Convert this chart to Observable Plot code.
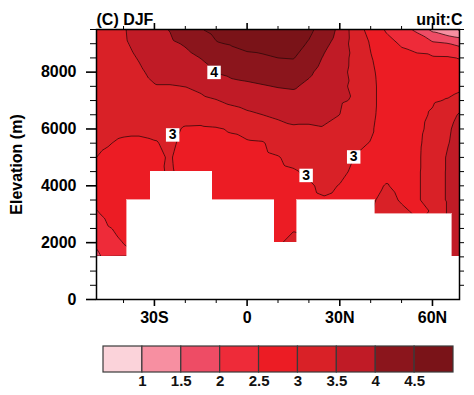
<!DOCTYPE html>
<html><head><meta charset="utf-8">
<script src="https://cdn.jsdelivr.net/npm/d3@7"></script>
<script src="https://cdn.jsdelivr.net/npm/@observablehq/plot@0.6"></script>
<style>body{margin:0;background:#fff} svg{display:block}</style>
</head><body><div id="chart"></div>
<script>
// latitude columns (deg, negative = S) and elevation rows (m)
const lats = [-48.75, -45, -40, -35, -30, -25, -20, -15, -10, -5, 0, 5, 10, 15, 20, 25, 30, 35, 40, 45, 50, 55, 60, 65, 68.75];
const elevs = [9500, 9000, 8500, 8000, 7500, 7000, 6500, 6000, 5500, 5000, 4500, 4000, 3500, 3000, 2500, 2000, 1500];
// temperature change (C) per elevation row, one value per latitude column
const t9500 = [3.4, 3.45, 3.48, 3.6, 3.85, 4.02, 4.35, 4.48, 4.62, 4.72, 4.8, 4.85, 4.85, 4.85, 4.62, 4.25, 3.9, 3.23, 2.83, 2.45, 2.18, 1.9, 1.38, 1.1, 0.95];
const t9000 = [3.35, 3.4, 3.47, 3.56, 3.75, 3.9, 4.05, 4.25, 4.47, 4.53, 4.6, 4.65, 4.68, 4.7, 4.45, 4.1, 3.82, 3.25, 2.97, 2.66, 2.45, 2.35, 2.1, 2.02, 1.9];
const t8500 = [3.3, 3.35, 3.4, 3.52, 3.66, 3.78, 3.85, 4.01, 4.2, 4.35, 4.42, 4.44, 4.5, 4.52, 4.27, 3.95, 3.75, 3.33, 3.02, 2.82, 2.65, 2.58, 2.56, 2.55, 2.48];
const t8000 = [3.25, 3.3, 3.35, 3.45, 3.58, 3.65, 3.7, 3.8, 4.02, 4.1, 4.15, 4.2, 4.25, 4.27, 4.08, 3.82, 3.68, 3.32, 3.05, 2.88, 2.8, 2.72, 2.72, 2.75, 2.8];
const t7500 = [3.2, 3.25, 3.28, 3.38, 3.48, 3.48, 3.505, 3.6, 3.75, 3.88, 3.92, 3.97, 4.02, 4.05, 3.9, 3.7, 3.62, 3.38, 3.06, 2.9, 2.84, 2.8, 2.82, 2.85, 2.92];
const t7000 = [3.15, 3.18, 3.2, 3.28, 3.35, 3.36, 3.38, 3.4, 3.48, 3.6, 3.68, 3.75, 3.8, 3.83, 3.75, 3.62, 3.56, 3.45, 3.06, 2.9, 2.86, 2.85, 2.95, 3.03, 3.12];
const t6500 = [3.1, 3.12, 3.12, 3.18, 3.22, 3.22, 3.15, 3.15, 3.22, 3.3, 3.42, 3.5, 3.58, 3.62, 3.6, 3.55, 3.5, 3.2, 3.05, 2.9, 2.87, 2.88, 3.05, 3.3, 3.55];
const t6000 = [3.07, 3.06, 3.04, 3.04, 3.08, 3.1, 2.96, 2.95, 2.97, 3.03, 3.15, 3.2, 3.35, 3.45, 3.45, 3.48, 3.4, 3.12, 3.03, 2.88, 2.87, 2.9, 3.12, 3.45, 3.62];
const t5500 = [3.03, 3.01, 2.97, 2.96, 2.98, 3.05, 2.93, 2.9, 2.9, 2.93, 2.95, 2.97, 3.15, 3.28, 3.3, 3.35, 3.28, 3.05, 2.99, 2.88, 2.87, 2.92, 3.18, 3.48, 3.68];
const t5000 = [3.0, 2.97, 2.9, 2.9, 2.95, 3.02, 2.9, 2.88, 2.87, 2.88, 2.9, 2.92, 2.98, 3.1, 3.15, 3.22, 3.15, 2.99, 2.93, 2.88, 2.88, 2.93, 3.22, 3.55, 3.7];
const t4500 = [2.87, 2.9, 2.83, 2.85, 2.94, 3.03, 2.92, 2.87, 2.86, 2.86, 2.88, 2.9, 2.93, 2.97, 3.05, 3.12, 3.06, 2.95, 2.9, 2.9, 2.88, 2.93, 3.25, 3.55, 3.7];
const t4000 = [2.73, 2.8, 2.75, 2.8, 2.9, 2.95, 2.9, 2.86, 2.85, 2.85, 2.87, 2.9, 2.92, 2.93, 2.97, 3.05, 2.99, 2.92, 2.9, 3.02, 2.92, 2.93, 3.25, 3.55, 3.72];
const t3500 = [2.6, 2.7, 2.67, 2.75, 2.9, 2.95, 2.9, 2.86, 2.85, 2.85, 2.87, 2.9, 2.92, 2.92, 2.95, 2.98, 2.95, 2.9, 2.95, 3.1, 2.97, 2.93, 3.25, 3.55, 3.72];
const t3000 = [2.45, 2.6, 2.62, 2.7, 2.9, 2.95, 2.9, 2.86, 2.85, 2.85, 2.87, 2.9, 2.93, 2.93, 2.95, 2.97, 2.95, 2.9, 2.98, 3.15, 3.08, 2.97, 3.02, 3.55, 3.75];
const t2500 = [2.26, 2.48, 2.56, 2.65, 2.9, 2.95, 2.9, 2.86, 2.85, 2.85, 2.87, 2.9, 2.95, 2.98, 2.95, 2.97, 2.95, 2.9, 2.98, 3.15, 3.1, 2.98, 3.15, 3.6, 3.8];
const t2000 = [2.07, 2.3, 2.51, 2.6, 2.9, 2.95, 2.9, 2.86, 2.85, 2.85, 2.87, 2.9, 2.97, 3.07, 2.95, 2.97, 2.95, 2.9, 2.98, 3.15, 3.1, 2.98, 3.2, 3.6, 3.85];
const t1500 = [1.9, 2.15, 2.4, 2.55, 2.9, 2.95, 2.9, 2.86, 2.85, 2.85, 2.87, 2.9, 2.97, 3.07, 2.95, 2.97, 2.95, 2.9, 2.98, 3.15, 3.1, 2.98, 3.2, 3.6, 3.85];
const rows = [t9500, t9000, t8500, t8000, t7500, t7000, t6500, t6000, t5500, t5000, t4500, t4000, t3500, t3000, t2500, t2000, t1500];

// topography (masked, white) blocks
const topoX1 = [-48.75, -38.75, -31.25, -11.25, 8.75, 16.25, 41.25, 66.25];
const topoX2 = [-38.75, -31.25, -11.25, 8.75, 16.25, 41.25, 66.25, 68.75];
const topoH  = [1500, 3500, 4500, 3500, 2000, 3500, 3000, 1500];

// contour labels
const labLat = [-10.7, -24.1, 34.5, 19.1];
const labElev = [7990, 5790, 5016, 4365];
const labText = ["4", "3", "3", "3"];

// colour levels
const levels = [1, 1.5, 2, 2.5, 3, 3.5, 4, 4.5];
const levelLabels = ["1", "1.5", "2", "2.5", "3", "3.5", "4", "4.5"];
const bandColors = ["#fbd3da", "#f78fa1", "#ee4c65", "#ee2b39", "#ec1c24", "#d92127", "#c01b26", "#8b151c", "#7a1318"];

// axis ticks
const xMajor = [-30, 0, 30, 60];
const xMajorLabels = ["30S", "0", "30N", "60N"];
const xMinor = [-40, -20, -10, 10, 20, 40, 50];
const yMajor = [0, 2000, 4000, 6000, 8000];
const yMinor = d3.range(500, 9501, 500).filter(v => v % 2000 !== 0);
const yAll = d3.range(500, 9501, 500);

const grid = [];
rows.forEach((r, i) => r.forEach((v, j) => grid.push({lat: lats[j], elev: elevs[i], value: v})));
const topo = topoX1.map((x1, i) => ({x1, x2: topoX2[i], h: topoH[i]}));
const labels = labText.map((t, i) => ({lat: labLat[i], elev: labElev[i], t}));

const font = "'Liberation Sans', Arial, Helvetica, sans-serif";
const none = () => "";

const main = Plot.plot({
  width: 474, height: 337,
  marginLeft: 96, marginRight: 15, marginTop: 29, marginBottom: 38,
  x: {domain: [-48.75, 68.75], axis: null},
  y: {domain: [0, 9500], axis: null},
  color: {type: "threshold", domain: levels, range: bandColors},
  style: {fontFamily: font, fontWeight: "bold", fontSize: "16px", background: "white", color: "black"},
  marks: [
    Plot.contour(grid, {x: "lat", y: "elev", fill: "value", interpolate: "barycentric",
      thresholds: [0, ...levels], pixelSize: 1, stroke: "#2a0808", strokeWidth: 0.75}),
    Plot.rect(topo, {x1: "x1", x2: "x2", y1: 0, y2: "h", fill: "white", stroke: "white", strokeWidth: 0.6, shapeRendering: "crispEdges"}),
    Plot.dot(labels, {x: "lat", y: "elev", symbol: "square", r: 7.6, fill: "white"}),
    Plot.text(labels, {x: "lat", y: "elev", text: "t", fontSize: 14, fontWeight: "bold", fill: "black", fontFamily: font}),
    Plot.frame({stroke: "black", strokeWidth: 1.5}),
    Plot.axisY({ticks: yMajor, anchor: "left", tickSize: 10, tickPadding: 10, strokeWidth: 1.6, label: null,
      tickFormat: d => String(d), fontSize: 16, fontWeight: "bold", fontFamily: font}),
    Plot.axisY({ticks: yMinor, anchor: "left", tickSize: 6, tickFormat: none, label: null, strokeWidth: 1}),
    Plot.axisY({ticks: yAll, anchor: "right", tickSize: 4, tickFormat: none, label: null, strokeWidth: 1}),
    Plot.axisX({ticks: xMajor, anchor: "bottom", tickSize: 7, tickPadding: 5, strokeWidth: 1.6, label: null,
      tickFormat: d => xMajorLabels[xMajor.indexOf(d)], fontSize: 16, fontWeight: "bold", fontFamily: font}),
    Plot.axisX({ticks: xMinor, anchor: "bottom", tickSize: 4, tickFormat: none, label: null, strokeWidth: 1}),
    Plot.axisX({ticks: xMajor, anchor: "top", tickSize: 7, tickFormat: none, label: null, strokeWidth: 1.6}),
    Plot.axisX({ticks: xMinor, anchor: "top", tickSize: 4, tickFormat: none, label: null, strokeWidth: 1}),
    Plot.text(["(C) DJF"], {frameAnchor: "top-left", dy: -16, textAnchor: "start", text: d => d,
      fontSize: 16, fontWeight: "bold", fontFamily: font}),
    Plot.text(["unit:C"], {frameAnchor: "top-right", dx: 3, dy: -16, textAnchor: "end", text: d => d,
      fontSize: 16, fontWeight: "bold", fontFamily: font}),
    Plot.text(["Elevation (m)"], {frameAnchor: "left", dx: -80, rotate: -90, textAnchor: "middle", text: d => d,
      fontSize: 16, fontWeight: "bold", fontFamily: font})
  ]
});

const boxes = d3.range(bandColors.length);
const bar = Plot.plot({
  width: 474, height: 58,
  marginLeft: 103, marginRight: 21, marginTop: 9, marginBottom: 23,
  x: {domain: [0, bandColors.length], axis: null},
  y: {domain: [0, 1], axis: null},
  style: {fontFamily: font, fontWeight: "bold", fontSize: "15px", background: "white"},
  marks: [
    Plot.rect(boxes, {x1: d => d, x2: d => d + 1, y1: 0, y2: 1, fill: d => bandColors[d], stroke: "#3a3a3a", strokeWidth: 1.2}),
    Plot.text(levelLabels, {x: (d, i) => i + 1, frameAnchor: "bottom", dy: 13, text: d => d,
      fontSize: 15, fontWeight: "bold", fontFamily: font, fill: "#111"})
  ]
});

const root = document.getElementById("chart");
root.appendChild(main);
root.appendChild(bar);
</script>
</body></html>
